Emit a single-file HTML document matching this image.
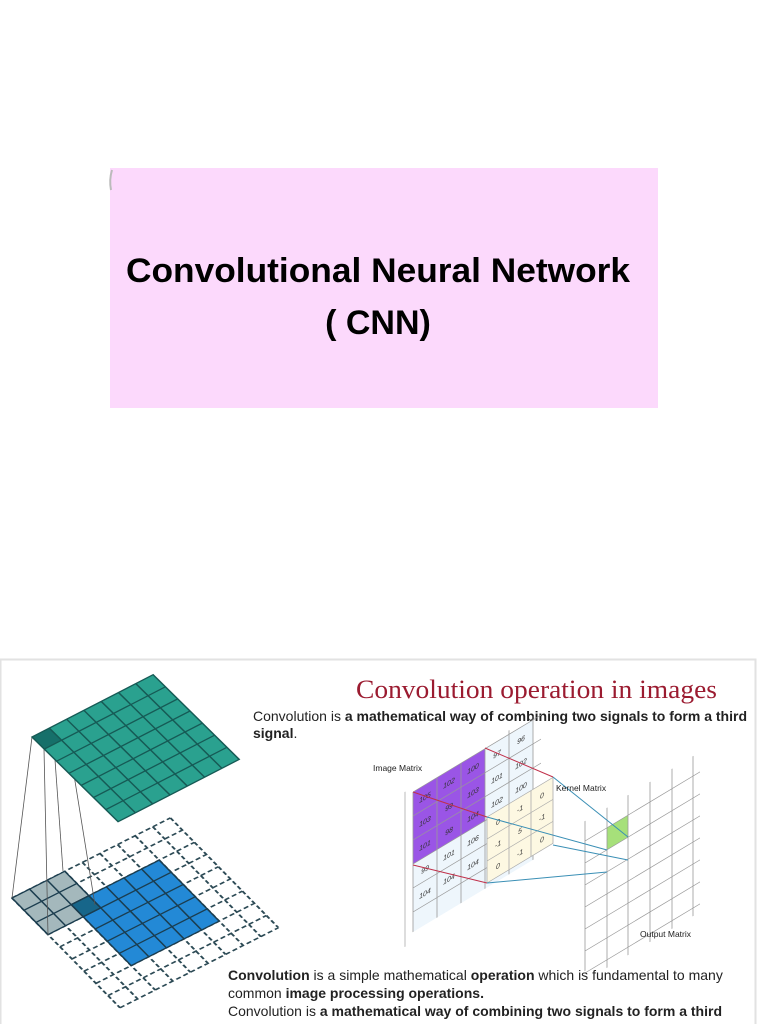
<!DOCTYPE html>
<html><head><meta charset="utf-8"><style>
html,body{margin:0;padding:0;background:#fff;}
svg{display:block}
</style></head><body>
<svg width="768" height="1024" viewBox="0 0 768 1024" xmlns="http://www.w3.org/2000/svg" font-family="Liberation Sans, sans-serif">
<rect x="0" y="0" width="768" height="1024" fill="#fff"/>
<!-- top slide -->
<rect x="110" y="168" width="548" height="240" fill="#fcd9fc"/>
<path d="M112 170 Q109 180 111 190" stroke="#bbb" stroke-width="2" fill="none"/>
<text x="126" y="282" font-size="34" font-weight="bold" textLength="504" lengthAdjust="spacingAndGlyphs" fill="#000">Convolutional Neural Network</text>
<text x="378" y="334" font-size="34" font-weight="bold" text-anchor="middle" fill="#000">( CNN)</text>

<!-- bottom panel -->
<rect x="0.5" y="659.5" width="755" height="370" fill="#fff" stroke="#e2e2e2" stroke-width="2"/>

<!-- dashed grid 9x9 -->
<g transform="matrix(17.6,-8.9,12,12.2,12,898)">
  <g fill="none" stroke="#2c4a55" stroke-width="0.1" stroke-dasharray="0.25 0.15">
    <path d="M0 0H9M0 1H9M0 2H9M0 3H9M0 4H9M0 5H9M0 6H9M0 7H9M0 8H9M0 9H9M0 0V9M1 0V9M2 0V9M3 0V9M4 0V9M5 0V9M6 0V9M7 0V9M8 0V9M9 0V9"/>
  </g>
  <rect x="2" y="2" width="5" height="5" fill="#2389d6"/>
  <rect x="0" y="0" width="3" height="3" fill="#a4b8bc"/>
  <rect x="2" y="2" width="1" height="1" fill="#17668a"/>
  <g fill="none" stroke="#1b3d4f" stroke-width="0.08">
    <path d="M2 2H7V7H2ZM2 3H7M2 4H7M2 5H7M2 6H7M3 2V7M4 2V7M5 2V7M6 2V7"/>
    <path d="M0 0H3V3H0ZM0 1H3M0 2H3M1 0V3M2 0V3"/>
  </g>
</g>
<g stroke="#555" stroke-width="0.8">
  <line x1="32" y1="737" x2="12" y2="898"/>
  <line x1="44" y1="749" x2="48" y2="935"/>
  <line x1="53" y1="732" x2="63" y2="871"/>
  <line x1="69" y1="744" x2="95" y2="905"/>
</g>
<!-- teal grid 7x7 -->
<g transform="matrix(17.3,-8.9,12.3,12.1,32,737)">
  <rect x="0" y="0" width="7" height="7" fill="#2aa18f"/>
  <rect x="0" y="0" width="1" height="1" fill="#16706a"/>
  <path fill="none" stroke="#165a55" stroke-width="0.08" d="M0 0H7V7H0ZM0 1H7M0 2H7M0 3H7M0 4H7M0 5H7M0 6H7M1 0V7M2 0V7M3 0V7M4 0V7M5 0V7M6 0V7"/>
</g>

<!-- right texts -->
<text x="356" y="698" font-family="Liberation Serif, serif" font-size="26" textLength="361" lengthAdjust="spacingAndGlyphs" fill="#9b1b30">Convolution operation in images</text>
<text x="253" y="721" font-size="14" fill="#222">Convolution is <tspan font-weight="bold">a mathematical way of combining two signals to form a third</tspan></text>
<text x="253" y="738" font-size="14" fill="#222" font-weight="bold">signal<tspan font-weight="normal">.</tspan></text>

<!-- image matrix -->
<g transform="translate(413,792) skewY(-31)">
  <rect x="0" y="0" width="120" height="140" fill="#eef6fc"/>
  <rect x="0" y="0" width="72" height="72" fill="#9a55e6"/>
  <path fill="none" stroke="#999" stroke-width="0.8" d="M0 0V140M24 0V140M48 0V140M72 0V140M96 -4V140M120 -4V140M0 0H128M0 24H128M0 48H128M0 72H128M0 96H128M0 120H128"/>
  <line x1="-8" y1="-5" x2="-8" y2="150" stroke="#aaa" stroke-width="0.8"/>
  <g font-size="7" fill="#333" font-style="italic" text-anchor="middle">
    <text x="12" y="15">105</text><text x="36" y="15">102</text><text x="60" y="15">100</text>
    <text x="12" y="39">103</text><text x="36" y="39">99</text><text x="60" y="39">103</text>
    <text x="12" y="63">101</text><text x="36" y="63">98</text><text x="60" y="63">104</text>
    <text x="12" y="87">99</text><text x="36" y="87">101</text><text x="60" y="87">106</text>
    <text x="12" y="111">104</text><text x="36" y="111">104</text><text x="60" y="111">104</text>
    <text x="84" y="15">97</text><text x="108" y="15">96</text>
    <text x="84" y="39">101</text><text x="108" y="39">102</text>
    <text x="84" y="63">102</text><text x="108" y="63">100</text>
  </g>
</g>
<!-- kernel -->
<g transform="translate(487,817) skewY(-31)">
  <rect x="0" y="0" width="66" height="66" fill="#fdf8e2" stroke="#aaa" stroke-width="0.8"/>
  <path fill="none" stroke="#aaa" stroke-width="0.8" d="M22 0V66M44 0V66M0 22H66M0 44H66"/>
  <g font-size="7" fill="#333" font-style="italic" text-anchor="middle">
    <text x="11" y="14">0</text><text x="33" y="14">-1</text><text x="55" y="14">0</text>
    <text x="11" y="36">-1</text><text x="33" y="36">5</text><text x="55" y="36">-1</text>
    <text x="11" y="58">0</text><text x="33" y="58">-1</text><text x="55" y="58">0</text>
  </g>
</g>
<!-- output matrix -->
<g transform="translate(585,841) skewY(-31)">
  <rect x="22" y="0" width="21" height="22" fill="#a6e07a"/>
  <path fill="none" stroke="#999" stroke-width="0.8" d="M0 -20V130M22 -20V140M43 -20V140M65 -20V140M87 -20V140M108 -20V140M0 0H115M0 22H115M0 44H115M0 66H115M0 88H115M0 110H115M0 132H115"/>
</g>
<g stroke="#c0304a" stroke-width="1">
  <line x1="485" y1="748" x2="553" y2="777"/>
  <line x1="413" y1="792" x2="487" y2="817"/>
  <line x1="413" y1="865" x2="487" y2="883"/>
</g>
<g stroke="#3a8fb5" stroke-width="1">
  <line x1="553" y1="777" x2="628" y2="837"/>
  <line x1="487" y1="817" x2="607" y2="850"/>
  <line x1="487" y1="883" x2="607" y2="872"/>
  <line x1="553" y1="845" x2="628" y2="860"/>
</g>
<g font-size="8.5" fill="#222">
  <text x="373" y="771">Image Matrix</text>
  <text x="556" y="791">Kernel Matrix</text>
  <text x="640" y="937">Output Matrix</text>
</g>

<g font-size="14" fill="#222">
  <text x="228" y="980"><tspan font-weight="bold">Convolution</tspan> is a simple mathematical <tspan font-weight="bold">operation</tspan> which is fundamental to many</text>
  <text x="228" y="998">common <tspan font-weight="bold">image processing operations.</tspan></text>
  <text x="228" y="1016">Convolution is <tspan font-weight="bold">a mathematical way of combining two signals to form a third</tspan></text>
  <text x="228" y="1034">signal. Convolution is a mathematical way of combining two signals</text>
</g>
</svg>
</body></html>
